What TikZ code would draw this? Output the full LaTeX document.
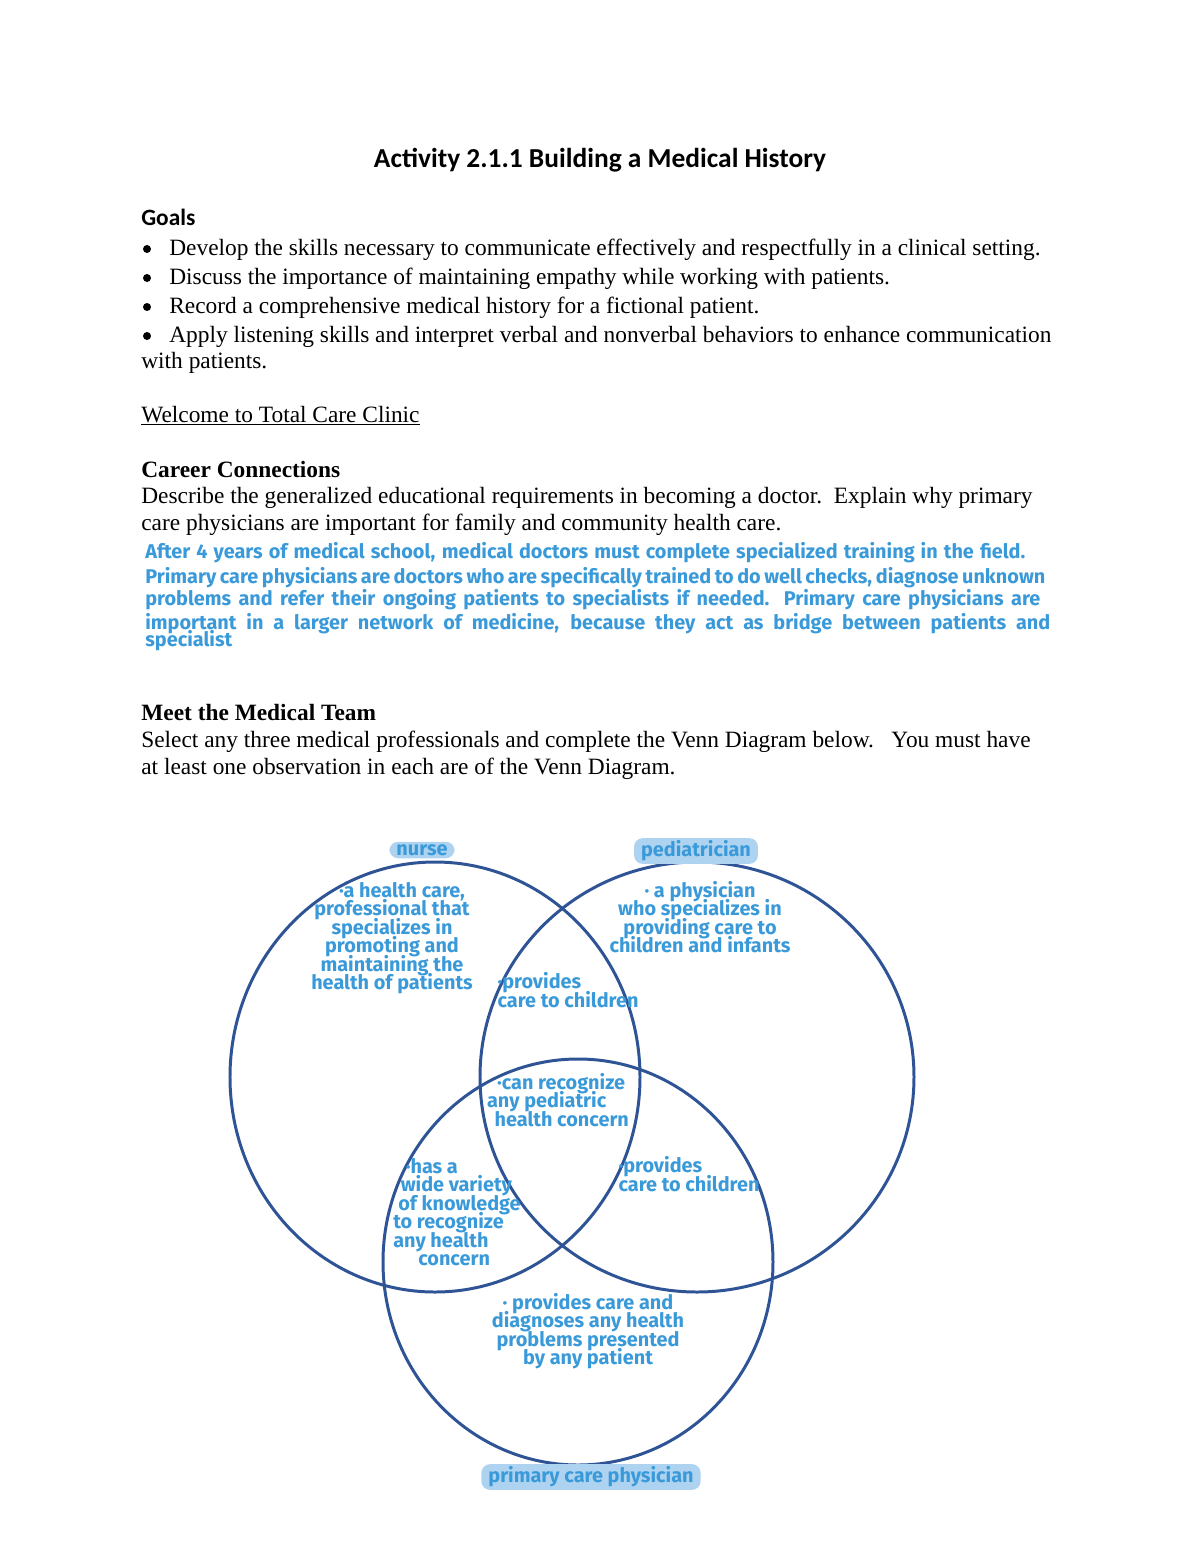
\documentclass[tikz,border=0pt]{standalone}
\usepackage{fontspec}
\setmainfont{Liberation Serif}
\newfontfamily\headfont{Carlito}
\newfontfamily\handfont{Fira Sans}
\usetikzlibrary{positioning}
\definecolor{vnblue}{HTML}{2F5496}
\definecolor{vnink}{HTML}{3A9AD9}
\definecolor{vnmark}{HTML}{ADD3F1}
\newcommand\tightlines{\lineskiplimit=-8pt\relax}

\begin{document}
\begin{tikzpicture}[x=0.2mm,y=-0.2mm,
    body/.style={anchor=base west,inner sep=0,font=\fontsize{13.3}{16.5}\selectfont},
    hand/.style={vnink,inner sep=0,font=\handfont\bfseries\fontsize{11.3}{10.5}\selectfont\tightlines},
    set/.style={vnblue,line width=1.7pt},
    tag/.style={hand,fill=vnmark,rounded corners=5pt,inner xsep=4pt,inner ysep=1.5pt}]
  \useasboundingbox[fill=white] (0,0) rectangle (1200,1553);

  % heading and goals
  \node[anchor=base,font=\headfont\bfseries\fontsize{15.6}{18}\selectfont] (title) at (600,167) {Activity 2.1.1 Building a Medical History};
  \node[body,font=\headfont\bfseries\fontsize{13.3}{16}\selectfont] (goals) at (141,225) {Goals};
  \foreach \t [count=\i] in {{Develop the skills necessary to communicate effectively and respectfully in a clinical setting.},
      {Discuss the importance of maintaining empathy while working with patients.},
      {Record a comprehensive medical history for a fictional patient.},
      {Apply listening skills and interpret verbal and nonverbal behaviors to enhance communication}} {
    \node[circle,fill,inner sep=0,minimum size=1.6mm] (dot\i) at (147,{220+29*\i}) {};
    \node[body] (goal\i) at (169,{226+29*\i}) {\t};
  }
  \node[body] (goal4b) at (141,368) {with patients.};

  \node[body] (welcome) at (141,422) {\underline{Welcome to Total Care Clinic}};

  % career connections
  \node[body,font=\bfseries\fontsize{13.3}{16.5}\selectfont] (career) at (141,477) {Career Connections};
  \node[body] (ask1) at (141,503) {Describe the generalized educational requirements in becoming a doctor.\ \ Explain why primary};
  \node[body] (ask2) at (141,530) {care physicians are important for family and community health care.};

  \node[hand,anchor=base west] (ans1) at (145,558) {\makebox[176mm][s]{After 4 years of medical school, medical doctors must complete specialized training in the field.}};
  \node[hand,anchor=base west] (ans2) at (145,583) {\makebox[180mm][s]{Primary care physicians are doctors who are specifically trained to do well checks, diagnose unknown}};
  \node[hand,anchor=base west] (ans3) at (145,605) {\makebox[179mm][s]{problems and refer their ongoing patients to specialists if needed. Primary care physicians are}};
  \node[hand,anchor=base west] (ans4) at (145,629) {\makebox[181mm][s]{important in a larger network of medicine, because they act as bridge between patients and}};
  \node[hand,anchor=base west] (ans5) at (145,646) {specialist};

  % medical team
  \node[body,font=\bfseries\fontsize{13.3}{16.5}\selectfont] (team) at (141,720) {Meet the Medical Team};
  \node[body] (sel1) at (141,747) {Select any three medical professionals and complete the Venn Diagram below.\ \ \ You must have};
  \node[body] (sel2) at (141,774) {at least one observation in each are of the Venn Diagram.};

  % venn diagram
  \draw[set] (435,1077) ellipse [x radius=41mm,y radius=43mm];
  \draw[set] (697,1077) ellipse [x radius=43.4mm,y radius=43mm];
  \draw[set] (578,1262) ellipse [x radius=39mm,y radius=40.6mm];

  \node[tag] (nurse) at (422,850) {nurse};
  \node[tag] (pediatrician) at (696,851) {pediatrician};
  \node[tag] (pcp) at (591,1477) {primary care physician};

  \node[hand,align=center] (nurseonly) at (392,938) {\hspace{4mm}·a health care,\\professional that\\specializes in\\promoting and\\maintaining the\\health of patients};
  \node[hand,align=center] (pedonly) at (700,917) {· a physician\\who specializes in\\providing care to\\children and infants};
  \node[hand,align=left] (nurseped) at (568,990) {·provides\\care to children};
  \node[hand,align=left] (all) at (558,1100) {\hspace{2mm}·can recognize\\any pediatric\\\hspace{1.5mm}health concern};
  \node[hand,align=left] (nursepcp) at (457,1212) {\hspace{2.5mm}·has a\\\hspace{1.5mm}wide variety\\\hspace{1mm}of knowledge\\to recognize\\any health\\\hspace{5mm}concern};
  \node[hand,align=left] (pedpcp) at (689,1174) {·provides\\care to children};
  \node[hand,align=center] (pcponly) at (588,1331) {· provides care and\\diagnoses any health\\problems presented\\by any patient};
\end{tikzpicture}
\end{document}
